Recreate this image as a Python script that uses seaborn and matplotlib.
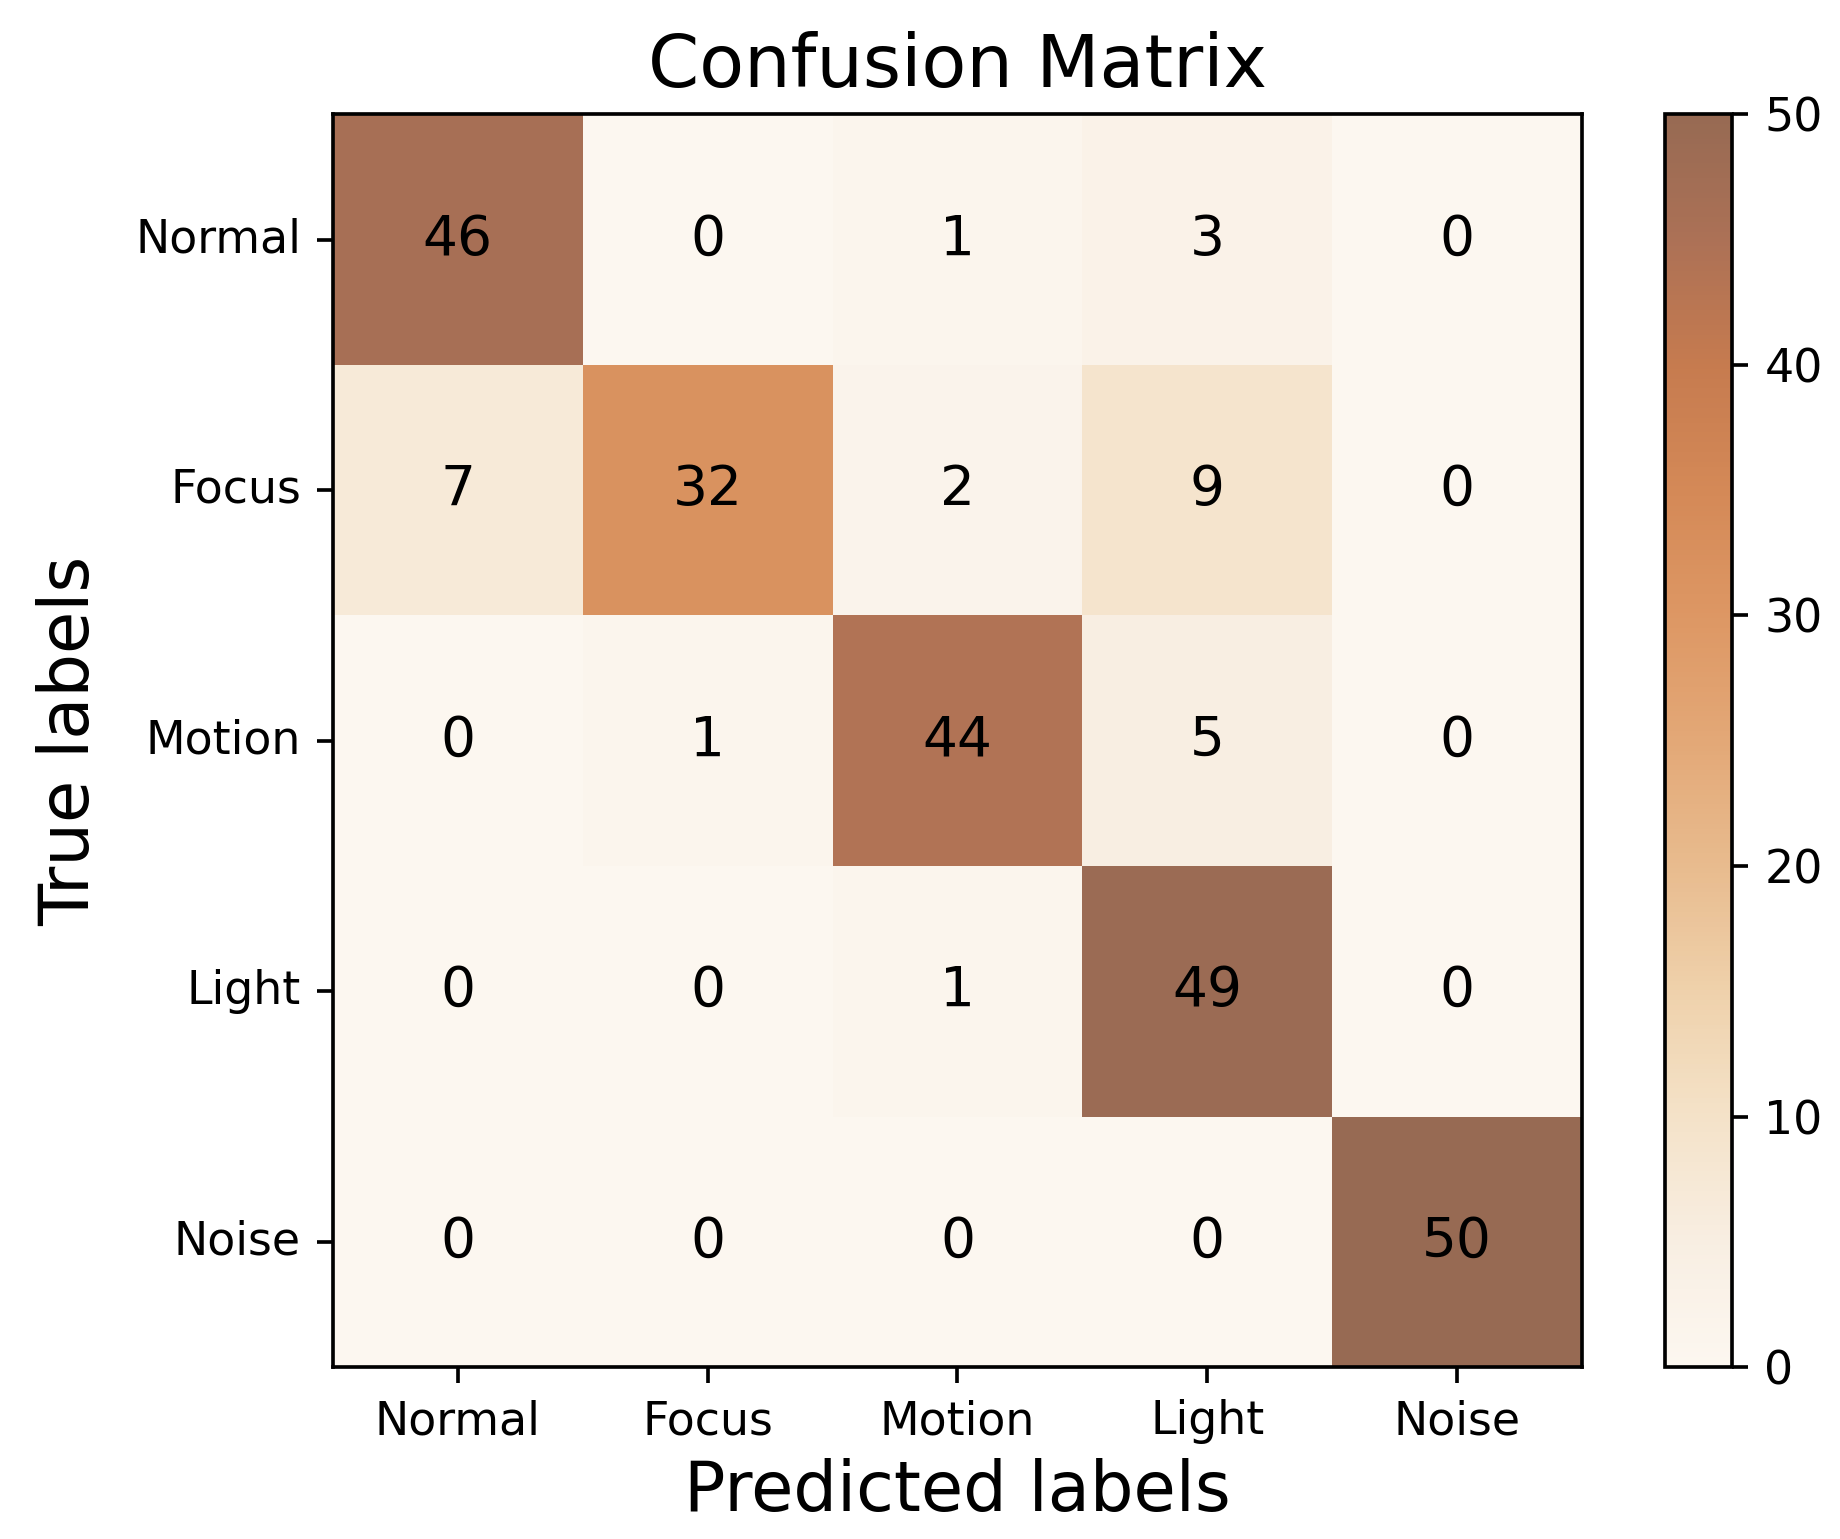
import numpy as np
import pandas as pd
import matplotlib
matplotlib.use("Agg")
import matplotlib.pyplot as plt
from matplotlib.colors import LinearSegmentedColormap
import seaborn as sns

labels = ["Normal", "Focus", "Motion", "Light", "Noise"]
row_normal = [46, 0, 1, 3, 0]
row_focus = [7, 32, 2, 9, 0]
row_motion = [0, 1, 44, 5, 0]
row_light = [0, 0, 1, 49, 0]
row_noise = [0, 0, 0, 0, 50]

cm = pd.DataFrame([row_normal, row_focus, row_motion, row_light, row_noise],
                  index=labels, columns=labels)

cmap = LinearSegmentedColormap.from_list("cm_brown", [
    (0.0, "#fcf7f0"),
    (0.1, "#f8eee2"),
    (0.2, "#f4e2c8"),
    (0.3, "#efd1ab"),
    (0.4, "#e8bb8e"),
    (0.5, "#e3a877"),
    (0.6, "#dd9764"),
    (0.7, "#d48957"),
    (0.8, "#c67b4f"),
    (0.9, "#ac7156"),
    (1.0, "#976a53"),
])

plt.rcParams['font.family'] = ['DejaVu Sans']
dpi = 330
fig = plt.figure(figsize=(1840 / dpi, 1539 / dpi), dpi=dpi)
ax = fig.add_axes([0.181, 0.1117, 0.6787, 0.814])
cax = fig.add_axes([0.905, 0.1117, 0.0365, 0.814])

sns.heatmap(cm, ax=ax, cbar_ax=cax, cmap=cmap, vmin=0, vmax=50,
            annot=True, fmt="d", annot_kws={"fontsize": 12, "color": "black"},
            square=False)

for s in ax.spines.values():
    s.set_visible(True)
    s.set_color("black")
    s.set_linewidth(0.8)

ax.tick_params(axis="both", which="major", length=3.5, width=0.8, labelsize=10,
               color="black")
ax.set_xticklabels(labels, rotation=0)
ax.set_yticklabels(labels, rotation=0)
ax.set_title("Confusion Matrix", fontsize=16)
ax.set_xlabel("Predicted labels", fontsize=15, labelpad=3)
ax.set_ylabel("True labels", fontsize=15, labelpad=7)

cbar = ax.collections[0].colorbar
cbar.set_ticks([0, 10, 20, 30, 40, 50])
cbar.outline.set_visible(True)
cbar.outline.set_edgecolor("black")
cbar.outline.set_linewidth(0.8)
cax.tick_params(labelsize=10, length=3.5, width=0.8)

fig.savefig("out.png", dpi=dpi)
